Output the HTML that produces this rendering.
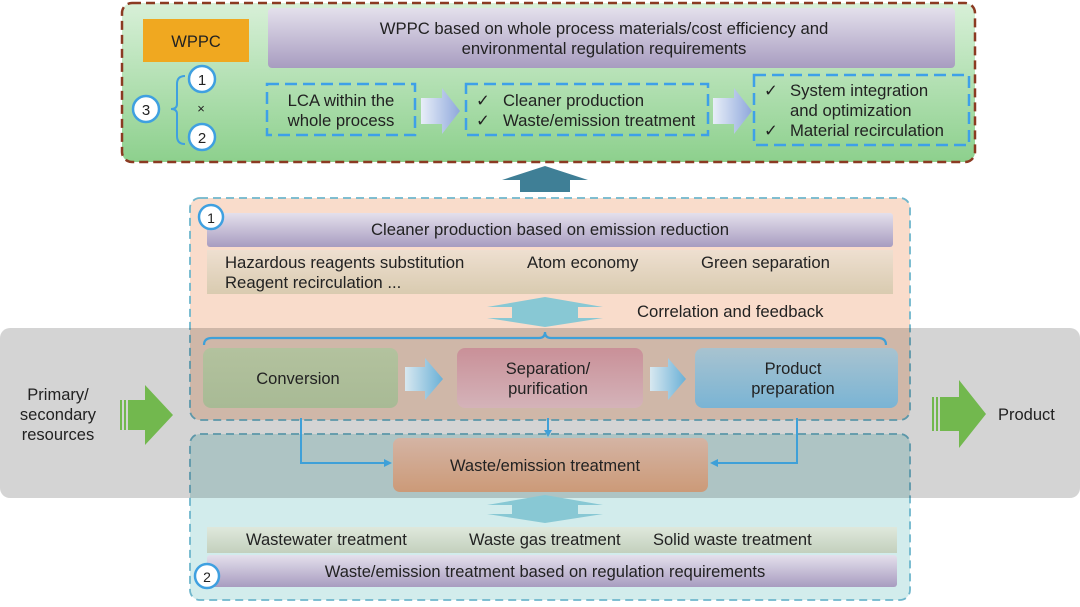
<!DOCTYPE html>
<html><head><meta charset="utf-8"><style>
html,body{margin:0;padding:0;background:#fff;}
svg text{font-family:"Liberation Sans",sans-serif;fill:#222;}
</style></head><body>
<svg width="1080" height="602" viewBox="0 0 1080 602" xmlns="http://www.w3.org/2000/svg">
<defs>
<linearGradient id="gTop" x1="0" y1="0" x2="0" y2="1"><stop offset="0" stop-color="#d8f0d8"/><stop offset="1" stop-color="#8dd08d"/></linearGradient>
<linearGradient id="gPur" x1="0" y1="0" x2="0" y2="1"><stop offset="0" stop-color="#e4e0ec"/><stop offset="1" stop-color="#a89cc0"/></linearGradient>
<linearGradient id="gBei" x1="0" y1="0" x2="0" y2="1"><stop offset="0" stop-color="#eedfd0"/><stop offset="1" stop-color="#d9cbb0"/></linearGradient>
<linearGradient id="gGrn" x1="0" y1="0" x2="0" y2="1"><stop offset="0" stop-color="#dfe8dc"/><stop offset="1" stop-color="#c3d0bd"/></linearGradient>
<linearGradient id="gConv" x1="0" y1="0" x2="0" y2="1"><stop offset="0" stop-color="#b3c29e"/><stop offset="1" stop-color="#a8ba95"/></linearGradient>
<linearGradient id="gSep" x1="0" y1="0" x2="0" y2="1"><stop offset="0" stop-color="#c99098"/><stop offset="1" stop-color="#d4b3b9"/></linearGradient>
<linearGradient id="gProd" x1="0" y1="0" x2="0" y2="1"><stop offset="0" stop-color="#a8c3d0"/><stop offset="1" stop-color="#7ab4d4"/></linearGradient>
<linearGradient id="gWaste" x1="0" y1="0" x2="0" y2="1"><stop offset="0" stop-color="#d4b4a4"/><stop offset="1" stop-color="#cc9a78"/></linearGradient>
<linearGradient id="gArr" x1="0" y1="0" x2="1" y2="0"><stop offset="0" stop-color="#e8eef8"/><stop offset="1" stop-color="#8fa8dc"/></linearGradient>
<linearGradient id="gArr2" x1="0" y1="0" x2="1" y2="0"><stop offset="0" stop-color="#d8e8f0"/><stop offset="1" stop-color="#6ab0d6"/></linearGradient>
</defs>

<rect x="122" y="3" width="853" height="159" rx="10" fill="url(#gTop)" stroke="#8b3a22" stroke-width="2.5" stroke-dasharray="9,5"/>
<rect x="143" y="19" width="106" height="43" fill="#f0a820"/>
<text x="196" y="47" font-size="16.5" text-anchor="middle">WPPC</text>
<rect x="268" y="8" width="687" height="60" rx="4" fill="url(#gPur)"/>
<text x="604" y="34" font-size="16.7" text-anchor="middle">WPPC based on whole process materials/cost efficiency and</text>
<text x="604" y="54" font-size="16.7" text-anchor="middle">environmental regulation requirements</text>
<g font-size="15" text-anchor="middle">
<circle cx="146" cy="109" r="13" fill="#fff" stroke="#3fa0e0" stroke-width="2.5"/><text x="146" y="115">3</text>
<circle cx="202" cy="79" r="13" fill="#fff" stroke="#3fa0e0" stroke-width="2.5"/><text x="202" y="85">1</text>
<circle cx="202" cy="137" r="13" fill="#fff" stroke="#3fa0e0" stroke-width="2.5"/><text x="202" y="143">2</text>
<text x="201" y="113" font-size="13">×</text>
</g>
<path d="M185 76 Q177 76 177 84 L177 104 Q177 109 171 109 Q177 109 177 114 L177 136 Q177 144 185 144" fill="none" stroke="#3fa0e0" stroke-width="2"/>
<g fill="none" stroke="#3ea0e8" stroke-width="2.5" stroke-dasharray="12,6">
<rect x="267" y="84" width="148" height="51"/>
<rect x="466" y="84" width="242" height="51"/>
<rect x="754" y="75" width="215" height="70"/>
</g>
<g font-size="16.7">
<text x="341" y="106" text-anchor="middle">LCA within the</text>
<text x="341" y="126" text-anchor="middle">whole process</text>
<text x="476" y="106">✓</text><text x="503" y="106">Cleaner production</text>
<text x="476" y="126">✓</text><text x="503" y="126">Waste/emission treatment</text>
<text x="764" y="96">✓</text><text x="790" y="96">System integration</text>
<text x="790" y="116">and optimization</text>
<text x="764" y="136">✓</text><text x="790" y="136">Material recirculation</text>
</g>
<path d="M421 98 L442 98 L442 88 L460 111 L442 134 L442 124 L421 124 Z" fill="url(#gArr)"/>
<path d="M713 98 L734 98 L734 88 L752 111 L734 134 L734 124 L713 124 Z" fill="url(#gArr)"/>

<path d="M520 192 L520 180 L502 180 L545 166 L588 180 L570 180 L570 192 Z" fill="#3f7f96"/>

<rect x="190" y="198" width="720" height="222" rx="10" fill="#f9dccb" stroke="#6fb6cc" stroke-width="1.8" stroke-dasharray="8,5"/>
<rect x="190" y="434" width="720" height="166" rx="10" fill="#d2ecec" stroke="#6fb6cc" stroke-width="1.8" stroke-dasharray="8,5"/>
<rect x="0" y="328" width="1080" height="170" rx="10" fill="#000" fill-opacity="0.17"/>

<rect x="207" y="213" width="686" height="34" rx="3" fill="url(#gPur)"/>
<text x="550" y="235" font-size="16.7" text-anchor="middle">Cleaner production based on emission reduction</text>
<circle cx="211" cy="217" r="12" fill="#fff" stroke="#3fa0e0" stroke-width="2.5"/><text x="211" y="223" font-size="14" text-anchor="middle">1</text>
<rect x="207" y="250" width="686" height="44" fill="url(#gBei)"/>
<g font-size="16.7">
<text x="225" y="268">Hazardous reagents substitution</text>
<text x="527" y="268">Atom economy</text>
<text x="701" y="268">Green separation</text>
<text x="225" y="288">Reagent recirculation ...</text>
<text x="637" y="317">Correlation and feedback</text>
</g>
<path d="M487 307 L545 297 L603 307 L578 307 L578 318 L603 318 L545 327 L487 318 L512 318 L512 307 Z" fill="#88c8d4"/>
<path d="M204 345 Q204 338 212 338 L539 338 Q545 338 545 332 Q545 338 551 338 L878 338 Q886 338 886 345" fill="none" stroke="#3fa0d8" stroke-width="2.2"/>

<rect x="203" y="348" width="195" height="60" rx="8" fill="url(#gConv)"/>
<rect x="457" y="348" width="186" height="60" rx="8" fill="url(#gSep)"/>
<rect x="695" y="348" width="203" height="60" rx="8" fill="url(#gProd)"/>
<g font-size="16.5" text-anchor="middle">
<text x="298" y="384">Conversion</text>
<text x="548" y="374">Separation/</text>
<text x="548" y="394">purification</text>
<text x="793" y="374">Product</text>
<text x="793" y="394">preparation</text>
</g>
<path d="M405 367 L425 367 L425 358 L443 379 L425 400 L425 391 L405 391 Z" fill="url(#gArr2)"/>
<path d="M650 367 L668 367 L668 358 L686 379 L668 400 L668 391 L650 391 Z" fill="url(#gArr2)"/>

<g font-size="16.5" text-anchor="middle">
<text x="58" y="400">Primary/</text>
<text x="58" y="420">secondary</text>
<text x="58" y="440">resources</text>
</g>
<path d="M130 400 L145 400 L145 385 L173 415 L145 445 L145 430 L130 430 Z" fill="#72b84e"/>
<rect x="120" y="400" width="2" height="30" fill="#72b84e"/><rect x="124" y="400" width="2" height="30" fill="#72b84e"/><rect x="128" y="400" width="2" height="30" fill="#72b84e"/>
<path d="M942 397 L959 397 L959 380 L986 414 L959 448 L959 431 L942 431 Z" fill="#72b84e"/>
<rect x="932" y="397" width="2" height="34" fill="#72b84e"/><rect x="936" y="397" width="2" height="34" fill="#72b84e"/><rect x="940" y="397" width="2" height="34" fill="#72b84e"/>
<text x="998" y="420" font-size="16.5">Product</text>

<g fill="none" stroke="#3fa0d8" stroke-width="2">
<path d="M301 418 L301 463 L388 463"/>
<path d="M548 418 L548 432"/>
<path d="M797 418 L797 463 L715 463"/>
</g>
<path d="M392 463 L384 459 L384 467 Z" fill="#3fa0d8"/>
<path d="M710 463 L718 459 L718 467 Z" fill="#3fa0d8"/>
<path d="M548 437 L544 430 L552 430 Z" fill="#3fa0d8"/>

<rect x="393" y="438" width="315" height="54" rx="7" fill="url(#gWaste)"/>
<text x="545" y="471" font-size="16.5" text-anchor="middle">Waste/emission treatment</text>

<path d="M487 505 L545 495 L603 505 L578 505 L578 514 L603 514 L545 523 L487 514 L512 514 L512 505 Z" fill="#88c8d4"/>

<rect x="207" y="527" width="690" height="26" fill="url(#gGrn)"/>
<g font-size="16.5">
<text x="246" y="545">Wastewater treatment</text>
<text x="469" y="545">Waste gas treatment</text>
<text x="653" y="545">Solid waste treatment</text>
</g>
<rect x="207" y="555" width="690" height="32" rx="3" fill="url(#gPur)"/>
<text x="545" y="577" font-size="16.5" text-anchor="middle">Waste/emission treatment based on regulation requirements</text>
<circle cx="207" cy="576" r="12" fill="#fff" stroke="#3fa0e0" stroke-width="2.5"/><text x="207" y="582" font-size="14" text-anchor="middle">2</text>
</svg>
</body></html>
